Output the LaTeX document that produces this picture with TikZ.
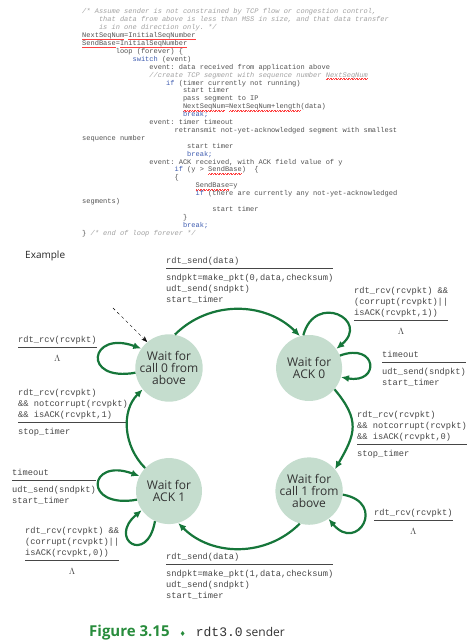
\documentclass[tikz,border=0pt]{standalone}
\usepackage{fontspec}
\setsansfont{Open Sans}
\setmonofont{Liberation Mono}
\newfontfamily\symfont{DejaVu Sans}
\usetikzlibrary{arrows.meta, positioning}

\definecolor{stategreen}{RGB}{197,221,206}
\definecolor{arcgreen}{RGB}{22,118,58}
\definecolor{capgreen}{RGB}{40,140,60}
\definecolor{codetext}{RGB}{80,80,80}
\definecolor{codecmt}{RGB}{160,160,160}
\definecolor{codekw}{RGB}{60,90,175}
\definecolor{guardtext}{RGB}{70,70,70}

% code listing helpers
\newlength\cw \setlength\cw{4.2pt}
\newcommand\ind[1]{\hspace*{#1\cw}}
\newcommand\kw[1]{\textcolor{codekw}{#1}}
\newcommand\cmt[1]{\textcolor{codecmt}{\itshape #1}}
\newcommand\wv[1]{\setbox0\hbox{#1}\rlap{\textcolor{red!75}{\lower1.9pt\hbox to\wd0{\xleaders\hbox to 1.6pt{\vrule height0.15pt depth0.05pt width0.8pt\raise0.5pt\hbox{\vrule height0.15pt depth0.05pt width0.8pt}}\hfil}}}\box0}

% event / action labels
\newcommand\evact[2]{\begin{tabular}[t]{@{}l@{}}#1\\[1pt]\hline\rule{0pt}{12pt}#2\end{tabular}}
\newcommand\evlam[1]{\begin{tabular}[t]{@{}l@{}}#1\\[1pt]\hline\multicolumn{1}{@{}c@{}}{\rule{0pt}{13.5pt}$\Lambda$}\end{tabular}}

\begin{document}
\begin{tikzpicture}[
        x=1pt, y=1pt,
        node distance=56pt and 73pt,
        state/.style={circle, fill=stategreen, minimum size=66pt, inner sep=0pt, align=center, text=black!80, font=\sffamily\fontsize{12}{12}\selectfont},
        guard/.style={inner sep=0pt, anchor=base west, text=guardtext, font=\ttfamily\fontsize{8.7}{11}\selectfont},
        trans/.style={arcgreen, line width=2.2pt, -{Latex[length=8pt,width=7pt]}},
        initarrow/.style={dashed, thin, -{Stealth[length=6pt]}}
        ]
    \useasboundingbox (0,0) rectangle (474,640);

    % sender pseudo code
    \node (code) [anchor=base west, inner sep=0pt, text=codetext, font=\ttfamily\fontsize{7}{7.9}\selectfont] at (82,626) {\begin{tabular}[t]{@{}l@{}}
        \cmt{/* Assume sender is not constrained by TCP flow or congestion control,}\\
        \ind{4}\cmt{that data from above is less than MSS in size, and that data transfer}\\
        \ind{4}\cmt{is in one direction only. */}\\
        \wv{NextSeqNum}=\wv{InitialSeqNumber}\\
        \wv{SendBase}=\wv{InitialSeqNumber}\\
        \ind{8}loop (forever) \{\\
        \ind{12}\kw{switch} (event)\\
        \ind{16}event: data received from application above\\
        \ind{16}\cmt{//create TCP segment with sequence number \wv{NextSeqNum}}\\
        \ind{20}\kw{if} (timer currently not running)\\
        \ind{24}start timer\\
        \ind{24}pass segment to IP\\
        \ind{24}\wv{NextSeqNum}=\wv{NextSeqNum+length} (data)\\
        \ind{24}\kw{break;}\\
        \ind{16}event: timer timeout\\
        \ind{22}retransmit not-yet-acknowledged segment with smallest\\
        sequence number\\
        \ind{25}start timer\\
        \ind{25}\kw{break;}\\
        \ind{16}event: ACK received, with ACK field value of y\\
        \ind{22}\kw{if} (y > \wv{SendBase})\ \ \{\\
        \ind{22}\{\\
        \ind{27}\wv{SendBase}=y\\
        \ind{27}\kw{if} (there are currently any not-yet-acknowledged\\
        segments)\\
        \ind{31}start timer\\
        \ind{24}\}\\
        \ind{24}\kw{break;}\\
        \} \cmt{/* end of loop forever */}
    \end{tabular}};

    \node (example) [anchor=base west, inner sep=0pt, text=black!85, font=\sffamily\fontsize{10}{12}\selectfont] at (25,381) {Example};

    % states
    \node (S0) [state] at (169,272) {Wait for\\call 0 from\\above};
    \node (A0) [state, right=of S0] {Wait for\\ACK 0};
    \node (A1) [state, below=of S0] {Wait for\\ACK 1};
    \node (S1) [state, right=of A1] {Wait for\\call 1 from\\above};

    % labels
    \node (sendzero) [guard] at (166,376) {\evact{rdt\_send(data)}{sndpkt=make\_pkt(0,data,checksum)\\udt\_send(sndpkt)\\start\_timer}};
    \node (badackone) [guard] at (354,346) {\evlam{rdt\_rcv(rcvpkt) \&\&\\(corrupt(rcvpkt)||\\isACK(rcvpkt,1))}};
    \node (rcvzero) [guard] at (18,297) {\evlam{rdt\_rcv(rcvpkt)}};
    \node (timeoutzero) [guard] at (382,282) {\evact{timeout}{udt\_send(sndpkt)\\start\_timer}};
    \node (ackone) [guard] at (18,244) {\evact{rdt\_rcv(rcvpkt)\\\&\& notcorrupt(rcvpkt)\\\&\& isACK(rcvpkt,1)}{stop\_timer}};
    \node (ackzero) [guard] at (357,222) {\evact{rdt\_rcv(rcvpkt)\\\&\& notcorrupt(rcvpkt)\\\&\& isACK(rcvpkt,0)}{stop\_timer}};
    \node (timeoutone) [guard] at (12,164) {\evact{timeout}{udt\_send(sndpkt)\\start\_timer}};
    \node (badackzero) [guard] at (25,106) {\evlam{rdt\_rcv(rcvpkt) \&\&\\(corrupt(rcvpkt)||\\isACK(rcvpkt,0))}};
    \node (rcvone) [guard] at (374,124) {\evlam{rdt\_rcv(rcvpkt)}};
    \node (sendone) [guard] at (166,80) {\evact{rdt\_send(data)}{sndpkt=make\_pkt(1,data,checksum)\\udt\_send(sndpkt)\\start\_timer}};

    % transitions
    \coordinate (init) at (113,332);
    \draw [initarrow] (init) -- (S0.130);
    \draw [trans] (S0.80) to[out=45, in=135] (A0.106);
    \draw [trans] (A0.320) to[out=-50, in=60, looseness=1.3] (S1.40);
    \draw [trans] (S1.254) to[out=-135, in=-45] (A1.286);
    \draw [trans] (A1.136) to[out=135, in=-135] (S0.219);

    % self loops
    \draw [trans] (S0.188) to[out=190, in=160, distance=55pt] (S0.145);
    \draw [trans] (A0.100) to[out=75, in=40, distance=45pt] (A0.35);
    \draw [trans] (A0.22) to[out=20, in=-10, distance=40pt] (A0.344);
    \draw [trans] (A1.195) to[out=190, in=160, distance=55pt] (A1.153);
    \draw [trans] (A1.245) to[out=260, in=220, distance=45pt] (A1.215);
    \draw [trans] (S1.354) to[out=-10, in=-50, distance=45pt] (S1.305);

    \node (caption) [anchor=base west, inner sep=0pt, text=black!80] at (89,3) {{\sffamily\bfseries\fontsize{15}{16}\selectfont\color{capgreen}Figure 3.15}\hspace{10pt}{\symfont\fontsize{7}{8}\selectfont\color{capgreen}♦}\hspace{10pt}{\ttfamily\fontsize{13}{16}\selectfont rdt3.0} {\sffamily\fontsize{12}{14}\selectfont sender}};
\end{tikzpicture}
\end{document}
